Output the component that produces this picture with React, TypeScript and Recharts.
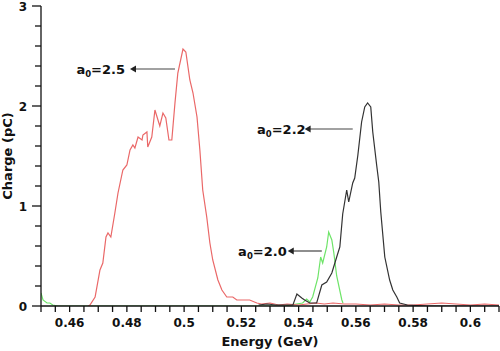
import { LineChart, Line, XAxis, YAxis, ReferenceLine } from 'recharts';

// a0 = 2.5 (red)
const redEnergy = [0.4665, 0.4671, 0.4689, 0.4706, 0.4716, 0.4727, 0.4734, 0.4744, 0.4758, 0.4769, 0.4786, 0.48, 0.4811, 0.4821, 0.4828, 0.4839, 0.4853, 0.4856, 0.487, 0.4873, 0.4887, 0.4898, 0.4915, 0.4926, 0.4936, 0.4947, 0.4957, 0.4968, 0.4978, 0.4996, 0.5006, 0.502, 0.5031, 0.5045, 0.5055, 0.5065, 0.5079, 0.509, 0.51, 0.5118, 0.5132, 0.5149, 0.517, 0.5184, 0.5205, 0.5229, 0.5254, 0.527, 0.53, 0.533, 0.536, 0.54, 0.543, 0.546, 0.549, 0.552, 0.556, 0.56, 0.565, 0.57, 0.575, 0.58, 0.585, 0.59, 0.595, 0.6, 0.605, 0.61];
const redCharge = [0, 0.01, 0.09, 0.36, 0.43, 0.69, 0.73, 0.69, 0.93, 1.13, 1.36, 1.41, 1.56, 1.61, 1.58, 1.69, 1.66, 1.71, 1.74, 1.59, 1.69, 1.96, 1.8, 1.93, 1.88, 1.66, 1.66, 2.03, 2.33, 2.57, 2.54, 2.26, 2.13, 1.89, 1.56, 1.16, 0.89, 0.63, 0.46, 0.26, 0.16, 0.09, 0.09, 0.06, 0.06, 0.06, 0.03, 0.02, 0.03, 0.01, 0.02, 0.01, 0.02, 0.03, 0.02, 0.03, 0.02, 0.02, 0.01, 0.02, 0.01, 0.01, 0.02, 0.03, 0.02, 0.01, 0.02, 0.01];

// a0 = 2.2 (black)
const blackEnergy = [0.526, 0.529, 0.532, 0.535, 0.538, 0.5394, 0.5411, 0.5421, 0.5439, 0.5463, 0.5481, 0.5498, 0.5516, 0.5533, 0.5544, 0.5554, 0.5568, 0.5575, 0.5589, 0.5596, 0.5607, 0.562, 0.5631, 0.5641, 0.5652, 0.5659, 0.5673, 0.568, 0.5687, 0.5701, 0.5718, 0.5729, 0.5743, 0.5753, 0.578, 0.585, 0.595, 0.61];
const blackCharge = [0.01, 0.02, 0.01, 0.01, 0.01, 0.12, 0.08, 0.06, 0.03, 0.03, 0.21, 0.24, 0.33, 0.49, 0.59, 0.92, 1.16, 1.04, 1.23, 1.28, 1.51, 1.84, 1.99, 2.03, 1.99, 1.74, 1.4, 1.24, 0.94, 0.49, 0.26, 0.16, 0.09, 0.03, 0.01, 0, 0, 0];

// a0 = 2.0 (green)
const greenEnergy = [0.45, 0.4507, 0.4521, 0.4531, 0.4541, 0.456, 0.48, 0.5, 0.52, 0.535, 0.5414, 0.5428, 0.5439, 0.5449, 0.5467, 0.5477, 0.5484, 0.5498, 0.5505, 0.5516, 0.5523, 0.5533, 0.5551, 0.5555];
const greenCharge = [0.13, 0.06, 0.03, 0.03, 0.01, 0, 0, 0, 0, 0, 0.03, 0.07, 0.04, 0.09, 0.28, 0.49, 0.43, 0.59, 0.74, 0.66, 0.53, 0.3, 0.06, 0.03];

const xTicks = [0.45, 0.455, 0.46, 0.465, 0.47, 0.475, 0.48, 0.485, 0.49, 0.495, 0.5, 0.505, 0.51, 0.515, 0.52, 0.525, 0.53, 0.535, 0.54, 0.545, 0.55, 0.555, 0.56, 0.565, 0.57, 0.575, 0.58, 0.585, 0.59, 0.595, 0.6, 0.605, 0.61];
const xLabels = [0.46, 0.48, 0.5, 0.52, 0.54, 0.56, 0.58, 0.6];
const yTicks = [0, 0.2, 0.4, 0.6, 0.8, 1, 1.2, 1.4, 1.6, 1.8, 2, 2.2, 2.4, 2.6, 2.8, 3];
const yLabels = [0, 1, 2, 3];

// annotation arrows: label, arrow head energy, arrow tail energy, charge level
const annLabels = ['2.5', '2.2', '2.0'];
const annHead = [0.4811, 0.5421, 0.5362];
const annTail = [0.4968, 0.5589, 0.5481];
const annLevel = [2.37, 1.77, 0.55];
const annGap = [6, 0, 2];

const toPoints = (xs: number[], ys: number[]) => xs.map((x, i) => ({ x, y: ys[i] }));
const redData = toPoints(redEnergy, redCharge);
const blackData = toPoints(blackEnergy, blackCharge);
const greenData = toPoints(greenEnergy, greenCharge);

const FONT = 'DejaVu Sans, sans-serif';

const XTick = (props: any) => {
  const { x, y, payload } = props;
  const v = payload.value;
  if (!xLabels.some((l) => Math.abs(l - v) < 1e-6)) return <g />;
  return (
    <text x={x} y={y} dy="0.71em" textAnchor="middle" fontFamily={FONT} fontWeight="bold" fontSize={12} fill="#111">
      {String(v)}
    </text>
  );
};

const YTick = (props: any) => {
  const { x, y, payload } = props;
  const v = payload.value;
  if (!yLabels.some((l) => Math.abs(l - v) < 1e-6)) return <g />;
  // major ticks are a bit longer than the minor ones
  return (
    <g>
      <line x1={x + 5} y1={y} x2={x + 8} y2={y} stroke="#111" strokeWidth={1.3} />
      <text x={x} y={y} dy={4.5} textAnchor="end" fontFamily={FONT} fontWeight="bold" fontSize={12} fill="#111">
        {String(v)}
      </text>
    </g>
  );
};

const arrowShape = (label: string, gap: number) => (props: any) => {
  const { x1, y1, x2, y2 } = props;
  return (
    <g>
      <line x1={x1 + 4} y1={y1} x2={x2} y2={y2} stroke="#444" strokeWidth={1.2} />
      <polygon points={`${x1},${y1} ${x1 + 6},${y1 - 3.5} ${x1 + 6},${y1 + 3.5}`} fill="#222" />
      <text x={x1 + 1 - gap} y={y1 + 5} textAnchor="end" fontFamily={FONT} fontWeight="bold" fontSize={13} fill="#111">
        a<tspan fontSize={8.5} dy={3}>0</tspan>
        <tspan dy={-3}>={label}</tspan>
      </text>
    </g>
  );
};

export default function App() {
  return (
    <div style={{ position: 'absolute', left: 0, top: 0, background: '#fff' }}>
      <LineChart width={500} height={351} margin={{ top: 6, right: 1, bottom: 0, left: 0 }}>
        <XAxis
          dataKey="x"
          type="number"
          domain={[0.45, 0.61]}
          allowDataOverflow
          ticks={xTicks}
          interval={0}
          tick={<XTick />}
          tickSize={6}
          tickMargin={6}
          height={45}
          stroke="#111"
          strokeWidth={1.3}
          label={() => (
            <text x={270} y={346} textAnchor="middle" fontFamily={FONT} fontWeight="bold" fontSize={13} fill="#111">
              Energy (GeV)
            </text>
          )}
        />
        <YAxis
          type="number"
          domain={[0, 3]}
          allowDataOverflow
          ticks={yTicks}
          interval={0}
          tick={<YTick />}
          tickSize={6}
          tickMargin={8}
          width={41}
          stroke="#111"
          strokeWidth={1.3}
          label={() => (
            <text
              x={12}
              y={156}
              transform="rotate(-90 12 156)"
              textAnchor="middle"
              fontFamily={FONT}
              fontWeight="bold"
              fontSize={13}
              fill="#111"
            >
              Charge (pC)
            </text>
          )}
        />
        <Line data={greenData} dataKey="y" type="linear" stroke="#6ee468" strokeWidth={1.2} dot={false} isAnimationActive={false} />
        <Line data={redData} dataKey="y" type="linear" stroke="#ea6868" strokeWidth={1.2} dot={false} isAnimationActive={false} />
        <Line data={blackData} dataKey="y" type="linear" stroke="#333" strokeWidth={1.2} dot={false} isAnimationActive={false} />
        {annLabels.map((lab, i) => (
          <ReferenceLine
            key={lab}
            segment={[
              { x: annHead[i], y: annLevel[i] },
              { x: annTail[i], y: annLevel[i] },
            ]}
            stroke="#444"
            shape={arrowShape(lab, annGap[i])}
          />
        ))}
      </LineChart>
    </div>
  );
}
